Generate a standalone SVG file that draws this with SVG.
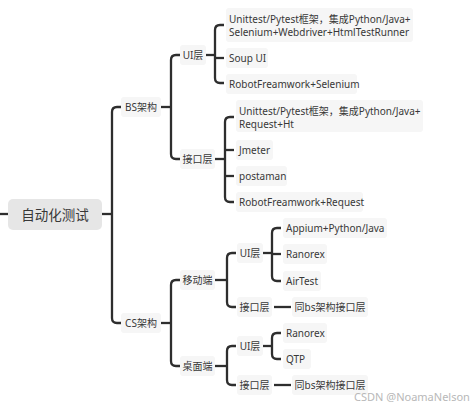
<svg xmlns="http://www.w3.org/2000/svg" width="474" height="407" viewBox="0 0 474 407">
<style>
.bg{fill:#ffffff}
.box{fill:#f6f6f6}
.root{fill:#e6e6e6}
.t{font-family:"Noto Sans","Noto Sans CJK SC",sans-serif;font-size:10px;fill:#383838}
.rt{font-family:"Noto Sans","Noto Sans CJK SC",sans-serif;font-size:13.5px;fill:#383838}
.wm{font-family:"Noto Sans","Noto Sans CJK SC",sans-serif;font-size:11px;fill:#b8b8b8}
.c{fill:none;stroke:#2e2e2e;stroke-width:2.3;stroke-linecap:butt}
</style>
<rect class="bg" x="0" y="0" width="474" height="407"/>
<g id="connectors">
<path class="c" d="M0,214 H8"/>
<path class="c" d="M102,214 H112"/>
<path class="c" d="M121,107 H117 Q112,107 112,112 V318 Q112,323 117,323 H121"/>
<path class="c" d="M161,107 H171"/>
<path class="c" d="M180,55 H176 Q171,55 171,60 V154 Q171,159 176,159 H180"/>
<path class="c" d="M206,55 H215"/>
<path class="c" d="M224,25 H220 Q215,25 215,30 V78 Q215,83 220,83 H224"/>
<path class="c" d="M215,58 H224"/>
<path class="c" d="M215,159 H225"/>
<path class="c" d="M234,117 H230 Q225,117 225,122 V197 Q225,202 230,202 H234"/>
<path class="c" d="M225,150 H234"/>
<path class="c" d="M225,176 H234"/>
<path class="c" d="M161,323 H171"/>
<path class="c" d="M180,280 H176 Q171,280 171,285 V361 Q171,366 176,366 H180"/>
<path class="c" d="M215,280 H227"/>
<path class="c" d="M236,253 H232 Q227,253 227,258 V302 Q227,307 232,307 H236"/>
<path class="c" d="M263,253 H272"/>
<path class="c" d="M281,228 H277 Q272,228 272,233 V276 Q272,281 277,281 H281"/>
<path class="c" d="M272,254 H281"/>
<path class="c" d="M274,307 H291"/>
<path class="c" d="M215,366 H227"/>
<path class="c" d="M236,346 H232 Q227,346 227,351 V380 Q227,385 232,385 H236"/>
<path class="c" d="M263,346 H272"/>
<path class="c" d="M281,333 H277 Q272,333 272,338 V354 Q272,359 277,359 H281"/>
<path class="c" d="M274,385 H291"/>
</g>
<g id="root">
<rect class="root" x="8" y="199" width="94" height="31" rx="5"/>
<text class="rt" x="55" y="219.5" text-anchor="middle">自动化测试</text>
</g>
<g id="bs">
<rect class="box" x="121" y="97" width="40" height="20" rx="3"/>
<text class="t" x="141" y="110.5" text-anchor="middle">BS架构</text>
</g>
<g id="bs-ui">
<rect class="box" x="180" y="45" width="26" height="20" rx="3"/>
<text class="t" x="193" y="58.5" text-anchor="middle">UI层</text>
</g>
<g id="bs-ui-1">
<rect class="box" x="226" y="8" width="187" height="34" rx="3"/>
<text class="t" x="229" y="22.5">Unittest/Pytest框架，集成Python/Java+</text>
<text class="t" x="229" y="35.5">Selenium+Webdriver+HtmlTestRunner</text>
</g>
<g id="bs-ui-2">
<rect class="box" x="226" y="48" width="42" height="20" rx="3"/>
<text class="t" x="229" y="61.5">Soup UI</text>
</g>
<g id="bs-ui-3">
<rect class="box" x="226" y="74" width="131" height="20" rx="3"/>
<text class="t" x="229" y="87.5">RobotFreamwork+Selenium</text>
</g>
<g id="bs-api">
<rect class="box" x="180" y="149" width="35" height="20" rx="3"/>
<text class="t" x="197.5" y="162.5" text-anchor="middle">接口层</text>
</g>
<g id="bs-api-1">
<rect class="box" x="236" y="100" width="187" height="32" rx="3"/>
<text class="t" x="239" y="114.5">Unittest/Pytest框架，集成Python/Java+</text>
<text class="t" x="239" y="127.5">Request+Ht</text>
</g>
<g id="bs-api-2">
<rect class="box" x="236" y="140" width="37" height="20" rx="3"/>
<text class="t" x="239" y="153.5">Jmeter</text>
</g>
<g id="bs-api-3">
<rect class="box" x="236" y="166" width="51" height="20" rx="3"/>
<text class="t" x="239" y="179.5">postaman</text>
</g>
<g id="bs-api-4">
<rect class="box" x="236" y="192" width="127" height="20" rx="3"/>
<text class="t" x="239" y="205.5">RobotFreamwork+Request</text>
</g>
<g id="cs">
<rect class="box" x="121" y="313" width="40" height="20" rx="3"/>
<text class="t" x="141" y="326.5" text-anchor="middle">CS架构</text>
</g>
<g id="mobile">
<rect class="box" x="180" y="270" width="35" height="20" rx="3"/>
<text class="t" x="197.5" y="283.5" text-anchor="middle">移动端</text>
</g>
<g id="mobile-ui">
<rect class="box" x="237" y="243" width="26" height="20" rx="3"/>
<text class="t" x="250" y="256.5" text-anchor="middle">UI层</text>
</g>
<g id="mobile-ui-1">
<rect class="box" x="283" y="218" width="104" height="20" rx="3"/>
<text class="t" x="286" y="231.5">Appium+Python/Java</text>
</g>
<g id="mobile-ui-2">
<rect class="box" x="283" y="244" width="44" height="20" rx="3"/>
<text class="t" x="286" y="257.5">Ranorex</text>
</g>
<g id="mobile-ui-3">
<rect class="box" x="283" y="271" width="38" height="20" rx="3"/>
<text class="t" x="286" y="284.5">AirTest</text>
</g>
<g id="mobile-api">
<rect class="box" x="237" y="297" width="35" height="20" rx="3"/>
<text class="t" x="254.5" y="310.5" text-anchor="middle">接口层</text>
</g>
<g id="mobile-api-1">
<rect class="box" x="292" y="297" width="76" height="20" rx="3"/>
<text class="t" x="330" y="310.5" text-anchor="middle">同bs架构接口层</text>
</g>
<g id="desktop">
<rect class="box" x="180" y="356" width="35" height="20" rx="3"/>
<text class="t" x="197.5" y="369.5" text-anchor="middle">桌面端</text>
</g>
<g id="desktop-ui">
<rect class="box" x="237" y="336" width="26" height="20" rx="3"/>
<text class="t" x="250" y="349.5" text-anchor="middle">UI层</text>
</g>
<g id="desktop-ui-1">
<rect class="box" x="283" y="323" width="44" height="20" rx="3"/>
<text class="t" x="286" y="336.5">Ranorex</text>
</g>
<g id="desktop-ui-2">
<rect class="box" x="283" y="349" width="28" height="20" rx="3"/>
<text class="t" x="286" y="362.5">QTP</text>
</g>
<g id="desktop-api">
<rect class="box" x="237" y="375" width="35" height="20" rx="3"/>
<text class="t" x="254.5" y="388.5" text-anchor="middle">接口层</text>
</g>
<g id="desktop-api-1">
<rect class="box" x="292" y="375" width="76" height="20" rx="3"/>
<text class="t" x="330" y="388.5" text-anchor="middle">同bs架构接口层</text>
</g>
<text class="wm" x="354" y="401">CSDN @NoamaNelson</text>
</svg>
